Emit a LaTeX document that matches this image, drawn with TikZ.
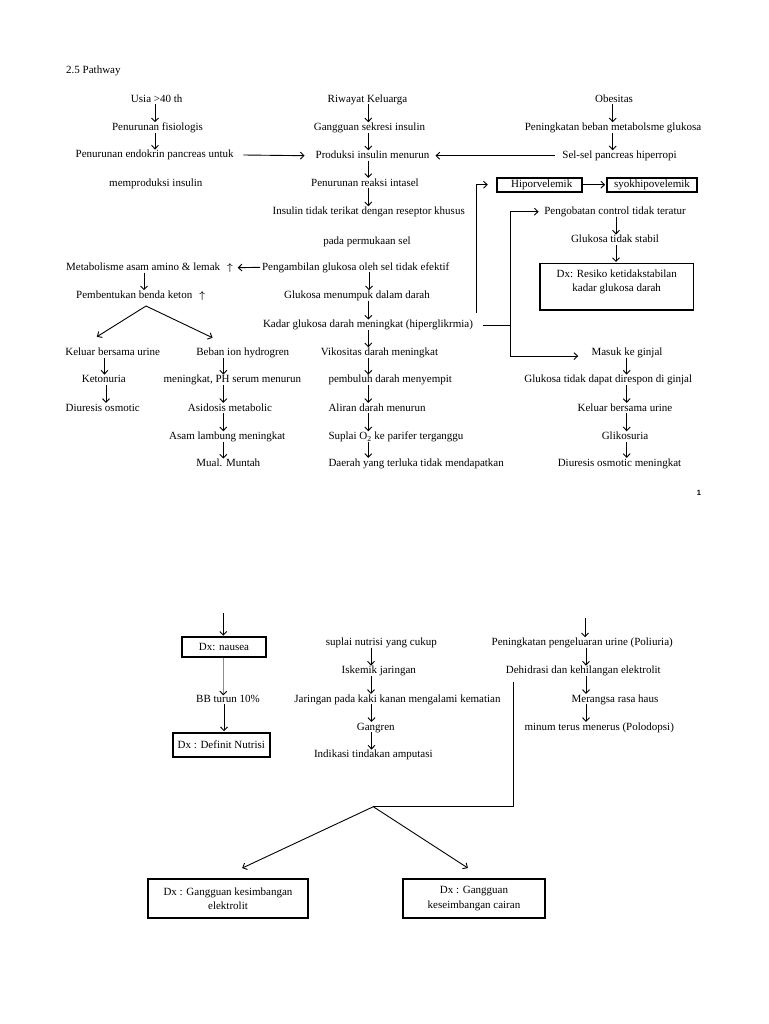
\documentclass[tikz,border=0pt]{standalone}
\usepackage{fontspec}
\setmainfont{Liberation Serif}
\newfontfamily\pnfont{Liberation Sans}
\usetikzlibrary{arrows.meta}
\usepackage{amsmath}
\newcommand{\upmark}{\hspace{7pt}{\fontsize{10}{10}\selectfont$\boldsymbol{\uparrow}$}}
\begin{document}
\begin{tikzpicture}[x=1pt,y=-1pt,
  t/.style={inner sep=0pt, font=\fontsize{11}{14}\selectfont, text height=7.5pt, text depth=2pt},
  ml/.style={inner sep=0pt, font=\fontsize{11}{14.5}\selectfont, align=center},
  con/.style={line width=0.9pt, -{Straight Barb[length=3.6pt,width=7pt,line width=0.9pt]}, shorten >=0.5pt},
  ln/.style={line width=0.9pt},
  tbox/.style={draw, line width=2.2pt, inner sep=0pt, font=\fontsize{11}{14.5}\selectfont, align=center}]
\useasboundingbox (0,0) rectangle (768,1024);
\fill[white] (0,0) rectangle (768,1024);

\node[t, anchor=west] (title) at (66,71) {2.5 Pathway};

% ---------- left column (top)
\node[t] (usia) at (156.7,99.3) {Usia >40 th};
\node[t] (fis) at (157.5,127.7) {Penurunan fisiologis};
\node[t] (endo) at (154.7,155) {Penurunan endokrin pancreas untuk};
\node[t] (mempro) at (155.8,183.3) {memproduksi insulin};
\draw[con] (usia.south -| 155,0) -- (fis.north -| 155,0);
\draw[con] (fis.south -| 155,0) -- (endo.north -| 155,0);

% ---------- middle column (top)
\node[t] (riw) at (367.5,99.3) {Riwayat Keluarga};
\node[t] (gang) at (369.5,127.7) {Gangguan sekresi insulin};
\node[t] (prod) at (372.5,155.7) {Produksi insulin menurun};
\node[t] (reak) at (365,183.3) {Penurunan reaksi intasel};
\node[t] (ins) at (368.7,211.7) {Insulin tidak terikat dengan reseptor khusus};
\node[t] (pada) at (367,241.7) {pada permukaan sel};
\node[t] (ambil) at (355.7,267.3) {Pengambilan glukosa oleh sel tidak efektif};
\node[t] (numpuk) at (357,295.7) {Glukosa menumpuk dalam darah};
\node[t] (kadar) at (368,325) {Kadar glukosa darah meningkat (hiperglikrmia)};
\draw[con] (riw.south -| 368.3,0) -- (gang.north -| 368.3,0);
\draw[con] (gang.south -| 368.3,0) -- (prod.north -| 368.3,0);
\draw[con] (prod.south -| 368.3,0) -- (reak.north -| 368.3,0);
\draw[con] (reak.south -| 368.3,0) -- (ins.north -| 368.3,0);
\draw[con] (ambil.south -| 369,0) -- (numpuk.north -| 369,0);
\draw[con] (numpuk.south -| 368.3,0) -- (kadar.north -| 368.3,0);

% ---------- right column (top)
\node[t] (obes) at (614,99.3) {Obesitas};
\node[t] (beban) at (613,127.7) {Peningkatan beban metabolsme glukosa};
\node[t] (sel) at (619.5,155.7) {Sel-sel pancreas hiperropi};
\draw[con] (obes.south -| 612.7,0) -- (beban.north -| 612.7,0);
\draw[con] (beban.south -| 612.7,0) -- (sel.north -| 612.7,0);

\draw[con] (endo.east -| 243.3,0) -- (prod.west -| 305,0);
\draw[con] (sel.west -| 555,0) -- (prod.east -| 435,0);

% ---------- hipervolemik boxes
\node[draw, line width=2.2pt, inner sep=0pt, minimum width=84.7pt, minimum height=14pt,
  font=\fontsize{11}{14}\selectfont] (hip) at (539.7,184.7) {\hspace{4pt}Hiporvelemik};
\node[draw, line width=2.2pt, inner sep=0pt, minimum width=90.6pt, minimum height=14pt,
  font=\fontsize{11}{14}\selectfont] (syok) at (652,184.7) {syokhipovelemik\hspace{6pt}};
\draw[con] (hip.east) -- (syok.west);
\coordinate (up0) at (476.7,313);
\draw[con] (up0) |- ([xshift=-8pt]hip.west);

% ---------- right column (middle)
\node[t] (obat) at (615,211.7) {Pengobatan control tidak teratur};
\node[t] (stabil) at (615,240) {Glukosa tidak stabil};
\node[draw, line width=1.7pt, inner sep=0pt, minimum width=153.3pt, minimum height=46.7pt] (dxr) at (616.7,286.7) {};
\node[ml] (dxrt) at (616.7,282) {Dx: Resiko ketidakstabilan\\kadar glukosa darah};
\draw[con] (obat.south -| 616,0) -- (stabil.north -| 616,0);
\draw[con] (stabil.south -| 616,0) -- (dxr.north -| 616,0);

% junction from hiperglikemia
\coordinate (jn) at (510.7,325);
\draw[ln] (kadar.east -| 482.7,0) -- (jn);
\draw[con] (jn) |- ([xshift=-5pt]obat.west);

\node[t] (masuk) at (627,352.7) {Masuk ke ginjal};
\node[t] (respon) at (608.3,380) {Glukosa tidak dapat direspon di ginjal};
\node[t] (kel2) at (625,408.3) {Keluar bersama urine};
\node[t] (gliko) at (625,436.7) {Glikosuria};
\node[t] (dio2) at (619.5,463.3) {Diuresis osmotic meningkat};
\draw[con] (jn) |- ([xshift=-12.7pt,yshift=-3.4pt]masuk.west);
\draw[con] (masuk.south -| 626.7,0) -- (respon.north -| 626.7,0);
\draw[con] (respon.south -| 626.7,0) -- (kel2.north -| 626.7,0);
\draw[con] (kel2.south -| 626.7,0) -- (gliko.north -| 626.7,0);
\draw[con] (gliko.south -| 626.7,0) -- (dio2.north -| 626.7,0);

% ---------- left column (middle)
\node[t, anchor=west] (meta) at (66,267.7) {Metabolisme asam amino \& lemak\upmark};
\node[t, anchor=west] (pemb) at (76,295.7) {Pembentukan benda keton\upmark};
\draw[con] (ambil.west -| 260,0) -- (meta.east -| 237.3,0);
\draw[con] (meta.south -| 144,0) -- (pemb.north -| 144,0);
\coordinate (apex) at (146,306);
\coordinate (bl) at (96.5,337);
\coordinate (br) at (213,338);
\draw[con] (apex) -- (bl);
\draw[con] (apex) -- (br);

\node[t] (kel1) at (112.7,352.7) {Keluar bersama urine};
\node[t] (keto) at (103.8,380) {Ketonuria};
\node[t] (dio1) at (102.7,408.3) {Diuresis osmotic};
\draw[con] (kel1.south -| 104.5,0) -- (keto.north -| 104.5,0);
\draw[con] (keto.south -| 106,0) -- (dio1.north -| 106,0);

\node[t] (ion) at (242.8,352.7) {Beban ion hydrogren};
\node[t] (ph) at (232.3,380) {meningkat, PH serum menurun};
\node[t] (asid) at (230,408.3) {Asidosis metabolic};
\node[t] (lamb) at (227.2,436.7) {Asam lambung meningkat};
\node[t] (mual) at (228.3,464) {Mual. Muntah};
\draw[con] (ion.south -| 223.3,0) -- (ph.north -| 223.3,0);
\draw[con] (ph.south -| 223.3,0) -- (asid.north -| 223.3,0);
\draw[con] (asid.south -| 223.3,0) -- (lamb.north -| 223.3,0);
\draw[con] (lamb.south -| 223.3,0) -- (mual.north -| 223.3,0);

% ---------- middle column (lower)
\node[t, anchor=west] (visk) at (320.7,352.7) {Vikositas darah meningkat};
\node[t, anchor=west] (pemb2) at (328.3,380) {pembuluh darah menyempit};
\node[t, anchor=west] (alir) at (328.3,408.3) {Aliran darah menurun};
\node[t, anchor=west] (o2) at (328.3,436.7) {Suplai O\textsubscript{2} ke parifer terganggu};
\node[t, anchor=west] (daer) at (328.3,463.3) {Daerah yang terluka tidak mendapatkan};
\draw[con] (kadar.south -| 368.3,0) -- (visk.north -| 368.3,0);
\draw[con] (visk.south -| 368.3,0) -- (pemb2.north -| 368.3,0);
\draw[con] (pemb2.south -| 368.3,0) -- (alir.north -| 368.3,0);
\draw[con] (alir.south -| 368.3,0) -- (o2.north -| 368.3,0);
\draw[con] (o2.south -| 368.3,0) -- (daer.north -| 368.3,0);

\node[font=\pnfont\bfseries\fontsize{7.5}{8}\selectfont, inner sep=0pt] (pg) at (699,492.7) {1};

% ---------- page 2, left
\coordinate (c1) at (223.3,613.3);
\node[tbox, minimum width=84pt, minimum height=20pt] (naus) at (224,647.3) {Dx: nausea};
\node[t] (bb) at (228,699.3) {BB turun 10\%};
\node[tbox, minimum width=97.3pt, minimum height=24pt] (defn) at (221.3,744.7) {Dx : Definit Nutrisi};
\draw[con] (c1) -- (naus.north -| c1);
\draw[line width=0.9pt, draw=black!45, -{Straight Barb[length=3.6pt,width=7pt,line width=0.9pt,color=black]}]
  (naus.south -| 223.3,0) -- ([yshift=-1pt]bb.north -| 223.3,0);
\draw[con] (bb.south -| 224,0) -- (defn.north -| 224,0);

% ---------- page 2, middle
\node[t] (nutri) at (381.3,642.7) {suplai nutrisi yang cukup};
\node[t] (iske) at (378.8,671) {Iskemik jaringan};
\node[t] (jar) at (397.5,699.3) {Jaringan pada kaki kanan mengalami kematian};
\node[t] (gangr) at (375.8,727.3) {Gangren};
\node[t] (amp) at (373.3,755) {Indikasi tindakan amputasi};
\draw[con] (nutri.south -| 371,0) -- (iske.north -| 371,0);
\draw[con] (iske.south -| 371,0) -- (jar.north -| 371,0);
\draw[con] (jar.south -| 371.5,0) -- (gangr.north -| 371.5,0);
\draw[con] (gangr.south -| 371.5,0) -- (amp.north -| 371.5,0);

% ---------- page 2, right
\coordinate (c2) at (585,618.3);
\node[t] (poli) at (582.2,642.7) {Peningkatan pengeluaran urine (Poliuria)};
\node[t] (dehi) at (583.3,671) {Dehidrasi dan kehilangan elektrolit};
\node[t] (haus) at (615,699.3) {Merangsa rasa haus};
\node[t] (minum) at (599.2,727.3) {minum terus menerus (Polodopsi)};
\draw[con] (c2) -- (poli.north -| c2);
\draw[con] (poli.south -| 586,0) -- (dehi.north -| 586,0);
\draw[con] (dehi.south -| 586,0) -- (haus.north -| 586,0);
\draw[con] (haus.south -| 586,0) -- (minum.north -| 586,0);

% ---------- bottom diagnoses
\coordinate (dv0) at (513.3,681.7);
\coordinate (dj) at (373.3,806.7);
\coordinate (tl) at (241.7,868.3);
\coordinate (tr) at (468.3,868.3);
\draw[ln] (dv0) |- (dj);
\draw[con] (dj) -- (tl);
\draw[con] (dj) -- (tr);
\node[tbox, minimum width=160pt, minimum height=39pt] (dxe) at (228,898.5) {Dx : Gangguan kesimbangan\\elektrolit};
\node[tbox, minimum width=142pt, minimum height=39pt] (dxc) at (474,898.5) {Dx : Gangguan\\keseimbangan cairan};
\end{tikzpicture}
\end{document}
